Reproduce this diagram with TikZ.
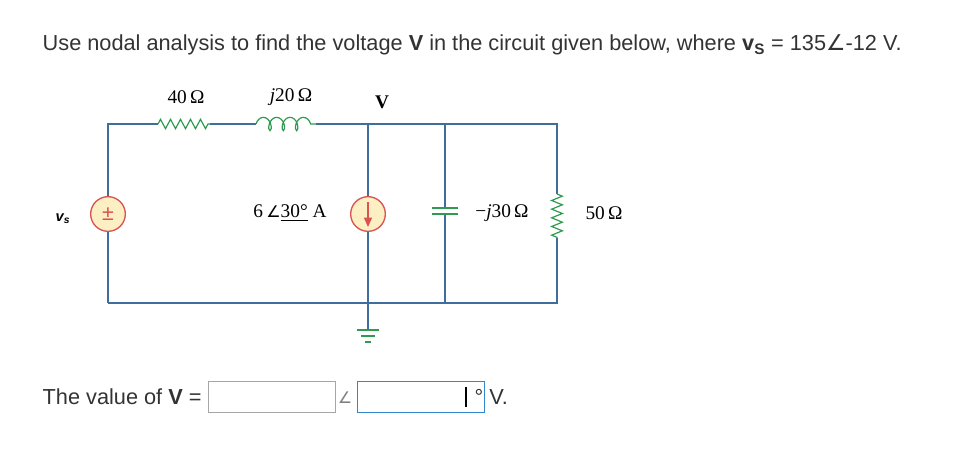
\documentclass[tikz,border=0pt]{standalone}
\usepackage{fontspec}
\setmainfont{Liberation Sans}
\newfontfamily\tms{Liberation Serif}
\newfontfamily\dvs{DejaVu Sans}
\usetikzlibrary{decorations.pathmorphing,arrows.meta}
\definecolor{wire}{HTML}{3F6E9E}
\definecolor{comp}{HTML}{2F9A50}
\definecolor{srcf}{HTML}{FDEFC4}
\definecolor{srcb}{HTML}{D9534F}
\definecolor{txt}{HTML}{333333}
\begin{document}
\begin{tikzpicture}[x=0.75pt,y=-0.75pt,
  w/.style={draw=wire,line width=0.9pt},
  cmp/.style={draw=comp,line width=0.9pt},
  src/.style={circle,draw=srcb,fill=srcf,line width=1pt,minimum size=26pt,inner sep=0pt},
  lab/.style={font=\tms\fontsize{14.5}{16}\selectfont,inner sep=1pt},
  box/.style={draw,minimum width=95pt,minimum height=23pt,inner sep=0pt,anchor=west}]
\useasboundingbox (0,0) rectangle (968,466);
\node[anchor=west,text=txt,font=\fontsize{16.3}{19}\selectfont] (title) at (38,45) {Use nodal analysis to find the voltage \textbf{V} in the circuit given below, where \textbf{v\textsubscript{S}} = 135{\dvs∠}-12 V.};
% coordinates
\coordinate (tl) at (108,124); \coordinate (bl) at (108,303);
\coordinate (tv) at (368,124); \coordinate (bv) at (368,303);
\coordinate (tc) at (445,124); \coordinate (bc) at (445,303);
\coordinate (tr) at (557,124); \coordinate (br) at (557,303);
\coordinate (r1a) at (158,124); \coordinate (r1b) at (210,124);
\coordinate (l1a) at (256,124); \coordinate (l1b) at (316,124);
\coordinate (rra) at (557,194); \coordinate (rrb) at (557,238);
\coordinate (ca) at (445,208); \coordinate (cb) at (445,214);
\coordinate (gnd) at (368,330);
% wires
\draw[w] (bl) -- (tl) -- (r1a);
\draw[w] (r1b) -- (l1a);
\draw[w] (l1b) -- (tv) -- (tc) -- (tr) -- (rra);
\draw[w] (rrb) -- (br) -- (bl);
\draw[w] (tv) -- (bv) -- (gnd);
\draw[w] (tc) -- (ca); \draw[w] (cb) -- (bc);
% resistor 40
\draw[cmp,decorate,decoration={zigzag,segment length=7.5pt,amplitude=3.5pt}] (r1a) -- (r1b);
% inductor
\draw[cmp,decorate,decoration={coil,aspect=0.6,segment length=10pt,amplitude=5pt}] (l1a) -- (l1b);
% 50 ohm
\draw[cmp,decorate,decoration={zigzag,segment length=6.5pt,amplitude=4pt}] (rra) -- (rrb);
% capacitor
\draw[cmp] (432,208) -- (458,208); \draw[cmp] (432,214) -- (458,214);
% ground
\draw[cmp] (357,330) -- (379,330); \draw[cmp] (361,336) -- (375,336); \draw[cmp] (365,342) -- (371,342);
% sources
\node[src,text=srcb,font=\fontsize{16}{16}\selectfont] (vs) at (108,214) {±};
\node[src] (is) at (368,214) {};
\draw[srcb,line width=1pt,-{Triangle[length=7pt,width=6pt]}] (368,202) -- (368,227);
% labels
\node[lab] (l40) at (186,97) {40\,Ω};
\node[lab] (l20) at (291,97) {\textit{j}20\,Ω};
\node[lab,font=\tms\bfseries\fontsize{14.5}{16}\selectfont] (lv) at (382,102) {V};
\node[font=\bfseries\itshape\fontsize{11}{12}\selectfont] (lvs) at (63,219) {v\textsubscript{s}};
\node[lab] (lis) at (290,213) {6\,{\dvs\fontsize{12}{14}\selectfont∠}\underline{30°} A};
\node[lab] (lc) at (502,213) {−\textit{j}30\,Ω};
\node[lab] (lr) at (604,213) {50\,Ω};
% answer line
\node[anchor=west,text=txt,font=\fontsize{16.3}{19}\selectfont] (ans) at (38,397) {The value of \textbf{V} =};
\node[box,draw=gray!70] (b1) at (208,397) {};
\node[text=gray,font=\dvs\fontsize{12}{14}\selectfont] (ang) at (345,398) {∠};
\node[box,draw=blue!45!cyan!60!gray,line width=1pt] (b2) at (357,397) {};
\draw[black,line width=0.8pt] (466,387) -- (466,407);
\node[anchor=west,text=txt,font=\fontsize{16.3}{19}\selectfont,inner sep=1pt] (deg) at (473,397) {° V.};
\end{tikzpicture}
\end{document}
